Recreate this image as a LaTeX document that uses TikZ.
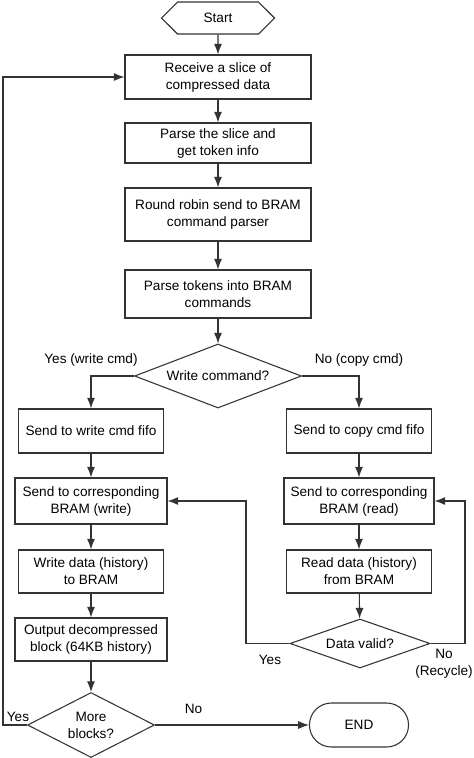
\documentclass[tikz,border=0pt]{standalone}
\usepackage{fontspec}
\setmainfont{Liberation Sans}
\usetikzlibrary{shapes.geometric, shapes.misc, shapes.symbols, arrows.meta}
\tikzset{
  block/.style={
    rectangle,
    draw=black!80,
    line width=0.8pt,
    align=center,
    inner sep=1pt,
    execute at begin node=\setlength{\baselineskip}{12.75pt}
  },
  decision/.style={diamond, draw=black!80, line width=0.8pt, align=center, inner sep=0pt,
    execute at begin node=\setlength{\baselineskip}{12.75pt}},
  terminal/.style={rounded rectangle, draw=black!80, line width=0.8pt},
  startbox/.style={signal, signal to=east and west, signal pointer angle=90,
    draw=black!80, line width=0.8pt, inner sep=1pt},
  lbl/.style={inner sep=0pt}
}
\tikzstyle{arrow} = [-{Latex[length=8pt,width=6pt]}, draw=black!80, line width=0.8pt]
\def\txt{\fontsize{10.2}{12.75}\selectfont}

\begin{document}
\begin{tikzpicture}[x=0.75pt, y=-0.75pt, font=\txt]
    \useasboundingbox (0,0) rectangle (474,758);
    % main column
    \node[startbox, minimum width=84.75pt, minimum height=24pt] (start) at (218, 18) {Start};
    \node[block, minimum width=139.5pt, minimum height=33pt] (recv) at (218, 77) {Receive a slice of\\compressed data};
    \node[block, minimum width=139.5pt, minimum height=30pt] (slice) at (218, 143) {Parse the slice and\\get token info};
    \node[block, minimum width=139.5pt, minimum height=39.75pt] (robin) at (218, 214.5) {Round robin send to BRAM\\command parser};
    \node[block, minimum width=139.5pt, minimum height=36pt] (tokens) at (218, 294) {Parse tokens into BRAM\\commands};
    \node[decision, aspect=2.6, minimum width=125.25pt, minimum height=48pt] (wcmd) at (218, 376) {Write command?};
    % write side
    \node[block, minimum width=108.75pt, minimum height=33pt] (wfifo) at (91, 431) {Send to write cmd fifo};
    \node[block, minimum width=114pt, minimum height=34.5pt] (wbram) at (91, 501) {Send to corresponding\\BRAM (write)};
    \node[block, minimum width=108.75pt, minimum height=32.25pt] (wdata) at (91, 571.5) {Write data (history)\\to BRAM};
    \node[block, minimum width=114pt, minimum height=32.25pt] (outblk) at (91, 639.5) {Output decompressed\\block (64KB history)};
    \node[decision, aspect=2, minimum width=95.25pt, minimum height=48.75pt] (more) at (91, 725) {More\\blocks?};
    % copy side
    \node[block, minimum width=108.75pt, minimum height=33pt] (cfifo) at (359, 431) {Send to copy cmd fifo};
    \node[block, minimum width=112.5pt, minimum height=34.5pt] (rbram) at (359, 501) {Send to corresponding\\BRAM (read)};
    \node[block, minimum width=108.75pt, minimum height=32.25pt] (rdata) at (359, 571.5) {Read data (history)\\from BRAM};
    \node[decision, aspect=2.86, minimum width=105pt, minimum height=36.75pt] (valid) at (360, 643.5) {Data valid?};
    \node[terminal, minimum width=81pt, minimum height=33pt] (done) at (359, 725) {END};
    % turning points
    \coordinate (wloop) at (246, 643.5);
    \coordinate (rloop) at (465, 643.5);
    \coordinate (mloop) at (3, 725);

    \draw[arrow] (start) -- (recv);
    \draw[arrow] (recv) -- (slice);
    \draw[arrow] (slice) -- (robin);
    \draw[arrow] (robin) -- (tokens);
    \draw[arrow] (tokens) -- (wcmd);
    \draw[arrow] (wcmd.west) -| node[lbl, pos=0.5, above=7pt] {Yes (write cmd)} (wfifo);
    \draw[arrow] (wcmd.east) -| node[lbl, pos=0.5, above=7pt] {No (copy cmd)} (cfifo);
    \draw[arrow] (wfifo) -- (wbram);
    \draw[arrow] (wbram) -- (wdata);
    \draw[arrow] (wdata) -- (outblk);
    \draw[arrow] (outblk) -- (more);
    \draw[arrow] (cfifo) -- (rbram);
    \draw[arrow] (rbram) -- (rdata);
    \draw[arrow] (rdata) -- (valid);
    \draw[arrow] (valid.west) -- (wloop) |- (wbram.east);
    \draw[arrow] (valid.east) -- (rloop) |- (rbram.east);
    \draw[arrow] (more.west) -- (mloop) |- (recv.west);
    \draw[arrow] (more.east) -- node[lbl, above=8pt, pos=0.25] {No} (done);
    % branch labels
    \node[lbl] (validyes) at (270, 660) {Yes};
    \node[lbl, align=center] (validno) at (444, 664) {No\\(Recycle)};
    \node[lbl] (moreyes) at (18, 717) {Yes};
\end{tikzpicture}
\end{document}
